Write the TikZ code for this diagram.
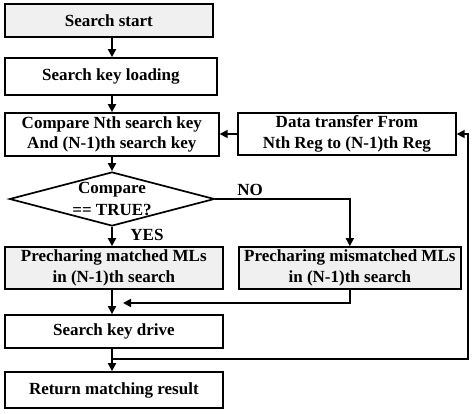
\documentclass[tikz,border=0pt]{standalone}
\usepackage{fontspec}
\setmainfont{Liberation Serif}
\usepackage{tikz}
\usetikzlibrary{
    arrows.meta,
    shapes.geometric
}

\tikzset{
    flowbox/.style={draw, line width=1.7pt, anchor=west, align=center,
        inner sep=0pt, font=\fontsize{17}{20.5}\selectfont\bfseries},
    graybox/.style={flowbox, fill=gray!12},
    decide/.style={draw, diamond, line width=1.7pt, align=center, inner sep=-3pt,
        shape aspect=3.8, minimum width=205pt, minimum height=54pt,
        font=\fontsize{17}{21.5}\selectfont\bfseries},
    flowlabel/.style={font=\fontsize{17}{20.5}\selectfont\bfseries},
    flowarrow/.style={line width=1.7pt, -{Triangle[length=8pt,width=8pt]}}
}

\begin{document}
\begin{tikzpicture}[x=1pt, y=-1pt]

\useasboundingbox (0,0) rectangle (474,414);

% Left column
\node[graybox, minimum width=208pt, minimum height=33pt] (start) at (4,20.5) {Search start};
\node[flowbox, minimum width=212pt, minimum height=37pt] (load) at (4,76.5) {Search key loading};
\node[flowbox, minimum width=214pt, minimum height=43pt] (cmp) at (4,134.5)
    {Compare Nth search key\\And (N-1)th search key};
\node[decide] (dec) at (112,199) {Compare\\== TRUE?};
\node[graybox, minimum width=218pt, minimum height=42pt] (match) at (4,268)
    {Precharing matched MLs\\in (N-1)th search};
\node[flowbox, minimum width=218pt, minimum height=33pt] (drive) at (4,331.5) {Search key drive};
\node[flowbox, minimum width=218pt, minimum height=36pt] (ret) at (4,390) {Return matching result};

% Right column
\node[flowbox, minimum width=218pt, minimum height=42pt] (xfer) at (237,134)
    {Data transfer From\\Nth Reg to (N-1)th Reg};
\node[graybox, minimum width=222pt, minimum height=42pt] (mism) at (238,268)
    {Precharing mismatched MLs\\in (N-1)th search};

% Labels
\node[flowlabel] (no) at (250,190) {NO};
\node[flowlabel] (yes) at (147,235) {YES};

% Turning points
\coordinate (merge) at (123,303);
\coordinate (join) at (112,359);
\coordinate (loop) at (468,359);

% Arrows
\draw[flowarrow] (start.south -| dec) -- (load.north -| dec);
\draw[flowarrow] (load.south -| dec) -- (cmp.north -| dec);
\draw[flowarrow] (cmp.south -| dec) -- (dec.north);
\draw[flowarrow] (dec.south) -- (match.north -| dec);
\draw[flowarrow] (dec.east) -| (mism.north);
\draw[flowarrow] (match.south -| dec) -- (drive.north -| dec);
\draw[flowarrow] (mism.south) |- (merge);
\draw[flowarrow] (drive.south -| dec) -- (ret.north -| dec);
\draw[flowarrow] (join) -- (loop) |- (xfer.east);
\draw[flowarrow] (xfer.west) -- (cmp.east |- xfer.west);

\end{tikzpicture}
\end{document}
